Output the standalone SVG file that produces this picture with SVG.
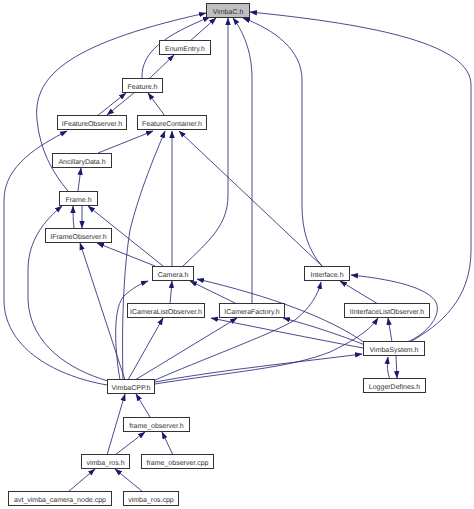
<svg xmlns="http://www.w3.org/2000/svg" width="474" height="509" viewBox="0 0 474 509">
<defs>
<marker id="a" markerWidth="8" markerHeight="6" refX="7" refY="3" orient="auto" markerUnits="userSpaceOnUse"><path d="M0,0.3 L7.5,3 L0,5.7z" fill="#191970"/></marker>
<style>
.e path{fill:none;stroke:#2a2a7a;stroke-width:0.85;marker-end:url(#a)}
.n rect{fill:#fff;stroke:#333;stroke-width:1}
.n text{font-family:"Liberation Sans",Arial,sans-serif;font-size:7px;fill:#333;text-anchor:middle;text-rendering:geometricPrecision}
#vimbac rect{fill:#bfbfbf}
</style>
</defs>
<rect width="474" height="509" fill="#fff"/>
<g id="edges" class="e">
<path d="M190,41 L216,18"/>
<path d="M142,78 C141,52 165,35 210,17"/>
<path d="M68,191 C52,172 40,150 37,120 C33,80 60,45 206,13"/>
<path d="M183,266 C210,240 228,225 228,195 L228,18"/>
<path d="M252,304 L252,78 C252,50 242,30 233,18"/>
<path d="M322,266 C308,250 302,230 302,205 L302,80 C302,50 275,30 243,18"/>
<path d="M410,342 C440,325 471,300 471,250 L471,85 C471,45 380,25 250,12"/>
<path d="M150,78 L174,55"/>
<path d="M97,116 L126,93"/>
<path d="M135,92 L107,115"/>
<path d="M165,116 L148,93"/>
<path d="M98,153 L153,131"/>
<path d="M78,191 L81,168"/>
<path d="M74,228 C73,220 73,213 73,206"/>
<path d="M82,205 L82,228"/>
<path d="M163,266 L88,206"/>
<path d="M155,266 L97,243"/>
<path d="M172,266 L172,131"/>
<path d="M123,380 C122,340 122,280 130,230 C140,190 155,155 165,131"/>
<path d="M322,266 L179,131"/>
<path d="M170,304 L172,281"/>
<path d="M237,304 L190,281"/>
<path d="M365,343 C330,318 270,296 197,279"/>
<path d="M120,380 C114,345 113,305 125,295 C133,288 140,284 148,281"/>
<path d="M125,380 L80,243"/>
<path d="M108,381 C70,370 30,345 28,300 L28,270 C28,240 45,220 62,206"/>
<path d="M107,385 C50,375 4,345 4,300 L4,200 C4,165 40,145 67,131"/>
<path d="M128,380 L163,318"/>
<path d="M135,380 L237,318"/>
<path d="M153,381 C200,360 270,335 295,320 C310,308 318,295 321,282"/>
<path d="M155,382 C220,370 300,362 362,354"/>
<path d="M155,384 C230,372 290,368 330,352 C355,340 370,330 378,318"/>
<path d="M378,304 L340,281"/>
<path d="M407,342 C425,335 440,318 437,305 C433,290 400,280 351,275"/>
<path d="M392,342 L388,318"/>
<path d="M363,348 C310,338 260,328 211,318"/>
<path d="M365,345 C340,335 310,325 283,318"/>
<path d="M390,379 C387,372 387,365 388,357"/>
<path d="M396,356 L397,378"/>
<path d="M150,417 L136,394"/>
<path d="M107,455 L125,394"/>
<path d="M115,455 L145,432"/>
<path d="M173,455 L162,432"/>
<path d="M68,492 L95,469"/>
<path d="M143,492 L115,469"/>
</g>
<g id="vimbac" class="n"><rect x="206.5" y="3.5" width="43" height="14"/><text x="228" y="13.5">VimbaC.h</text></g>
<g id="enumentry" class="n"><rect x="159.5" y="40.5" width="51" height="14"/><text x="185" y="50.5">EnumEntry.h</text></g>
<g id="feature" class="n"><rect x="122.5" y="78.5" width="40" height="14"/><text x="142.5" y="88.5">Feature.h</text></g>
<g id="ifeatureobserver" class="n"><rect x="57.5" y="115.5" width="69" height="14"/><text x="92" y="125.5">IFeatureObserver.h</text></g>
<g id="featurecontainer" class="n"><rect x="137.5" y="115.5" width="69" height="14"/><text x="172" y="125.5">FeatureContainer.h</text></g>
<g id="ancillarydata" class="n"><rect x="52.5" y="153.5" width="59" height="14"/><text x="82" y="163.5">AncillaryData.h</text></g>
<g id="frame" class="n"><rect x="59.5" y="191.5" width="38" height="14"/><text x="78.5" y="201.5">Frame.h</text></g>
<g id="iframeobserver" class="n"><rect x="45.5" y="228.5" width="66" height="14"/><text x="78.5" y="238.5">IFrameObserver.h</text></g>
<g id="camera" class="n"><rect x="152.5" y="266.5" width="41" height="14"/><text x="173" y="276.5">Camera.h</text></g>
<g id="icameralistobserver" class="n"><rect x="127.5" y="303.5" width="77" height="14"/><text x="166" y="313.5">ICameraListObserver.h</text></g>
<g id="icamerafactory" class="n"><rect x="219.5" y="303.5" width="65" height="14"/><text x="252" y="313.5">ICameraFactory.h</text></g>
<g id="interface" class="n"><rect x="304.5" y="266.5" width="45" height="14"/><text x="327" y="276.5">Interface.h</text></g>
<g id="iinterfacelistobserver" class="n"><rect x="344.5" y="303.5" width="85" height="14"/><text x="387" y="313.5">IInterfaceListObserver.h</text></g>
<g id="vimbasystem" class="n"><rect x="363.5" y="341.5" width="61" height="14"/><text x="394" y="351.5">VimbaSystem.h</text></g>
<g id="loggerdefines" class="n"><rect x="363.5" y="378.5" width="62" height="14"/><text x="394.5" y="388.5">LoggerDefines.h</text></g>
<g id="vimbacpp" class="n"><rect x="107.5" y="379.5" width="47" height="14"/><text x="131" y="389.5">VimbaCPP.h</text></g>
<g id="frame_observer_h" class="n"><rect x="123.5" y="417.5" width="66" height="14"/><text x="156.5" y="427.5">frame_observer.h</text></g>
<g id="vimba_ros_h" class="n"><rect x="81.5" y="454.5" width="48" height="14"/><text x="105.5" y="464.5">vimba_ros.h</text></g>
<g id="frame_observer_cpp" class="n"><rect x="141.5" y="454.5" width="72" height="14"/><text x="177.5" y="464.5">frame_observer.cpp</text></g>
<g id="avt_vimba_camera_node_cpp" class="n"><rect x="8.5" y="491.5" width="103" height="14"/><text x="60" y="501.5">avt_vimba_camera_node.cpp</text></g>
<g id="vimba_ros_cpp" class="n"><rect x="123.5" y="491.5" width="55" height="14"/><text x="151" y="501.5">vimba_ros.cpp</text></g>
</svg>
